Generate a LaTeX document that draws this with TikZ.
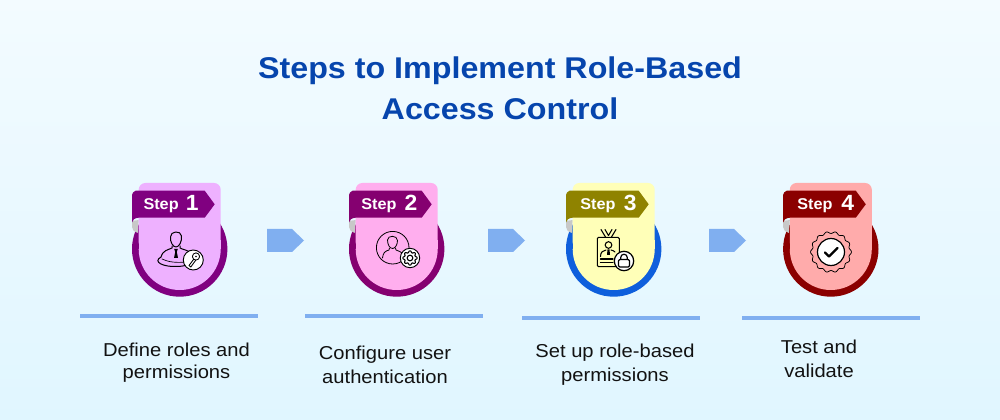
\documentclass[tikz,border=0pt]{standalone}
\usepackage{fontspec}
\setmainfont{Liberation Sans}
\newfontfamily\titlefont[FakeStretch=1.075]{Liberation Sans Bold}
\newfontfamily\stepfont[FakeStretch=1.04]{Liberation Sans Bold}
\newfontfamily\bodyfont[FakeStretch=1.08]{Liberation Sans}
\definecolor{bgtop}{HTML}{F3FBFF}
\definecolor{bgbot}{HTML}{E0F6FF}
\definecolor{accent}{HTML}{80AFF0}
\definecolor{titleblue}{HTML}{0645AD}
\definecolor{foldgray}{HTML}{C8C8C8}
\definecolor{ribA}{HTML}{800080}\definecolor{shA}{HTML}{EEB1FF}
\definecolor{ribB}{HTML}{850070}\definecolor{shB}{HTML}{FFAEEE}
\definecolor{ribC}{HTML}{8F8300}\definecolor{ringC}{HTML}{0F5FDC}\definecolor{shC}{HTML}{FFFFB8}
\definecolor{ribD}{HTML}{8B0000}\definecolor{shD}{HTML}{FFABAB}
\tikzset{
  titletext/.style={inner sep=0pt,text=titleblue,align=center,font=\titlefont\fontsize{22.5}{30.75}\selectfont},
  steptext/.style={inner sep=0pt,anchor=base,text=white,font=\stepfont\fontsize{11.7}{14}\selectfont},
  numtext/.style={inner sep=0pt,anchor=base,text=white,font=\stepfont\fontsize{16.5}{18}\selectfont},
  desc/.style={inner sep=0pt,text=black!93,align=center,font=\bodyfont\fontsize{14}{18}\selectfont},
  descnarrow/.style={inner sep=0pt,text=black!93,align=center,font=\bodyfont\fontsize{14}{16.5}\selectfont},
  sepline/.style={accent,line width=3pt},
  icon/.style={draw=black,line width=0.6pt,line cap=round,line join=round},
  badge/.style={draw=black,line width=0.7pt,fill=white},
}
% centre x, ring, shield, ribbon, number, word x, number x, id
\newcommand{\stepbadge}[8]{%
\begin{scope}[shift={(#1,0)}]
  \fill[#2] (0,249) circle (47.7);
  \fill[foldgray] (-47.7,221) -- (-47.7,227) .. controls (-47.7,230) and (-45,232.5) .. (-42,233) -- (-41,220) -- cycle;
  \fill[#3,rounded corners=5pt] (-41,249) -- (-41,183) -- (41,183) -- (41,249) -- cycle;
  \fill[#3] (-41,240) rectangle (41,249);
  \fill[#3] (41,249) arc (0:180:41) -- cycle;
  \fill[#4] (-47.7,195) .. controls (-47.7,193) and (-46,191.5) .. (-44,190.7) -- (25,190.7) -- (35,204.3) -- (25,217.7) -- (-41,217.7) .. controls (-45,218) and (-47.7,220) .. (-47.7,222.5) -- cycle;
  \node[steptext] (word#8) at (#6,209.4) {Step};
  \node[numtext] (num#8) at (#7,210.7) {#5};
\end{scope}}
\newcommand{\blockarrow}[1]{\fill[accent] (#1,229) -- (#1+25,229) -- (#1+37,240.5) -- (#1+25,252) -- (#1,252) -- cycle;}
\begin{document}
\begin{tikzpicture}[x=0.75pt,y=-0.75pt]
\useasboundingbox (0,0) rectangle (1000,420);
\shade[top color=bgtop,bottom color=bgbot] (0,0) rectangle (1000,420);
\node[titletext] (title) at (500,88) {Steps to Implement Role-Based\\Access Control};

\stepbadge{179.7}{ribA}{shA}{ribA}{1}{-18.6}{12.5}{a}
\stepbadge{396.7}{ribB}{shB}{ribB}{2}{-17.8}{14.3}{b}
\stepbadge{613.7}{ringC}{shC}{ribC}{3}{-15.7}{16.6}{c}
\stepbadge{830.8}{ribD}{shD}{ribD}{4}{-15.9}{16.9}{d}

\blockarrow{267}\blockarrow{488}\blockarrow{709}

\draw[sepline] (80,316) -- (258,316);
\draw[sepline] (305,316) -- (483,316);
\draw[sepline] (522,318) -- (700,318);
\draw[sepline] (742,318) -- (920,318);

\node[descnarrow] (d1) at (176.5,362.5) {Define roles and\\permissions};
\node[desc] (d2) at (385,364.8) {Configure user\\authentication};
\node[desc] (d3) at (615,365) {Set up role-based\\permissions};
\node[desc] (d4) at (819,359) {Test and\\validate};

% icon 1: person with key
\begin{scope}[shift={(176,0)}]
  \draw[icon,line width=0.75pt] (-5.5,237) .. controls (-6,231) and (5,230) .. (5.5,236) .. controls (6,242) and (3,247) .. (0,247) .. controls (-3,247) and (-6,242) .. (-5.5,237);
  \draw[icon,line width=0.75pt] (-4,246) -- (-4,248) .. controls (-8,250) and (-13,250) .. (-15,257);
  \draw[icon,line width=0.75pt] (4,246) -- (4,248) .. controls (8,250) and (11,250) .. (14,252);
  \fill[black] (-1.8,249) -- (1.8,249) -- (0.8,252) -- (2,258) -- (-2,258) -- (-0.8,252) -- cycle;
  \draw[icon,line width=0.75pt] (-15,257) .. controls (-24,262) and (-12,267) .. (0,266.5) .. controls (4,266.5) and (8,266) .. (11,265);
  \draw[icon,line width=0.5pt] (-14,259) .. controls (-8,262) and (0,263) .. (10,262);
  \draw[badge] (193.3-176,260) circle (10);
  \draw[icon,line width=0.65pt] (20,256.5) circle (3.6);
  \fill (20,256.5) circle (0.8);
  \draw[icon,line width=0.65pt] (17.6,259.4) -- (13,265.5) -- (14.8,267) -- (19.6,260.4);
\end{scope}

% icon 2: person in circle with gear
\draw[icon] (392.7,247.7) circle (16.3);
\draw[icon] (387.5,240) .. controls (387.5,235) and (397.5,235) .. (397.5,240.5) .. controls (397.5,245) and (395,248.5) .. (392.5,248.5) .. controls (390,248.5) and (387.5,245) .. (387.5,240);
\draw[icon] (389.5,248) -- (389,250) .. controls (385,251) and (383,253) .. (382.5,258);
\draw[icon] (395.5,248) -- (396,250) .. controls (399,251) and (401,252) .. (402,253);
\draw[badge] (410,258) circle (9.7);
\draw[icon,line width=0.8pt] plot[domain=0:360,samples=65] ({410+(6.3+0.9*cos(8*\x))*cos(\x)},{258+(6.3+0.9*cos(8*\x))*sin(\x)}) -- cycle;
\draw[icon,line width=0.8pt] (410,258) circle (2.8);

% icon 3: id card with lock
\draw[icon,line width=0.8pt,rounded corners=1pt] (597.3,237.3) rectangle (619.3,266.7);
\draw[icon,line width=0.8pt] (601,229.5) -- (605.5,237) (605,229.5) -- (608.5,235.5) (616,229.5) -- (611.5,237) (612,229.5) -- (608.5,235.5);
\draw[icon,line width=0.8pt] (608.5,245) circle (3.3);
\draw[icon,line width=0.8pt] (600.5,256.5) .. controls (600.5,252) and (603,250.5) .. (606,250) (611,250) .. controls (613,250.5) and (614,251) .. (615,252);
\fill[black] (607.5,249.5) -- (609.5,249.5) -- (610,255) -- (607,255) -- cycle;
\draw[icon,line width=0.8pt] (600.5,259) -- (613,259) (600.5,262.5) -- (613,262.5);
\draw[badge,line width=0.9pt] (624,261) circle (9.7);
\draw[icon,line width=0.9pt,rounded corners=1pt] (618.5,259.5) rectangle (629.5,267);
\draw[icon,line width=0.9pt] (620.7,259.5) -- (620.7,257.5) arc (180:360:3.3) -- (627.3,259.5);

% icon 4: seal with check
\draw[icon,line width=0.55pt] plot[domain=0:360,samples=113,smooth] ({831+(19.5+1*cos(14*\x))*cos(\x)},{252+(19.5+1*cos(14*\x))*sin(\x)}) -- cycle;
\draw[badge,line width=0.9pt] (831,252) circle (13.5);
\draw[icon,line width=1.7pt] (825,252.5) -- (829,256.5) -- (837.5,248);
\end{tikzpicture}
\end{document}
